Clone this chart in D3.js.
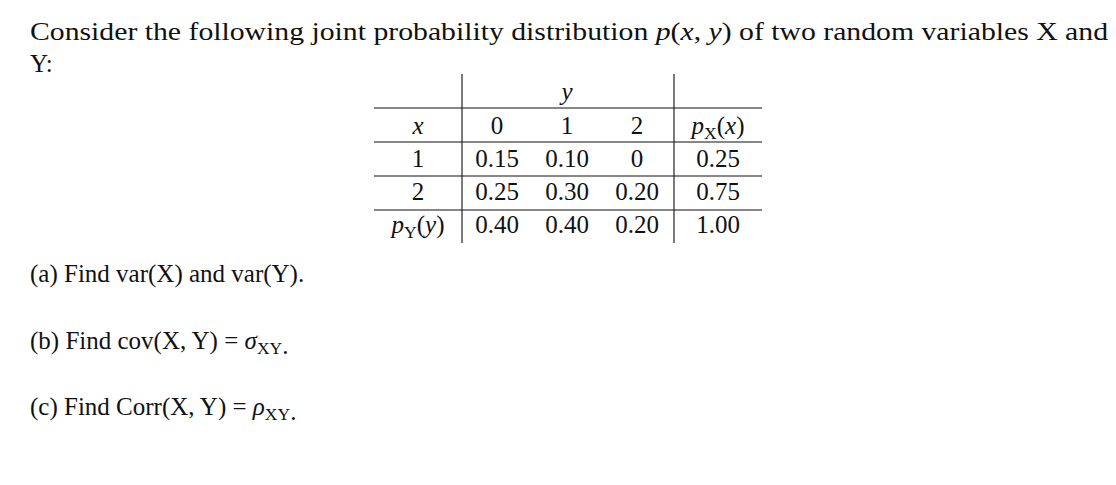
<!DOCTYPE html><html><head><meta charset="utf-8">
<script src="https://cdn.jsdelivr.net/npm/d3@7"></script>
<style>body{margin:0;background:#fff}text{font-family:"Liberation Serif","DejaVu Serif",serif;fill:#111}</style></head><body>
<script>
const yValues=["0","1","2"];
const xValues=["1","2"];
const joint=[["0.15","0.10","0"],["0.25","0.30","0.20"]];
const pX=["0.25","0.75"];
const pY=["0.40","0.40","0.20"];
const total="1.00";
const questions=[
 [["(a) Find var(X) and var(Y).",""]],
 [["(b) Find cov(X, Y) = ",""],["σ","i"],["XY","sub"],[".",""]],
 [["(c) Find Corr(X, Y) = ",""],["ρ","i"],["XY","sub"],[".",""]]
];
const W=1116,H=485,fs=25;
const svg=d3.select("body").append("svg").attr("width",W).attr("height",H);
function rich(g,x,y,parts,anchor,size){
 const t=g.append("text").attr("x",x).attr("y",y).attr("font-size",size||fs).attr("text-anchor",anchor||"start");
 parts.forEach(([s,k])=>{const sp=t.append("tspan").text(s);
  if(k==="i")sp.attr("font-style","italic");
  if(k==="sub")sp.attr("font-size",(size||fs)*0.7).attr("dy",5);
  if(k==="after")sp.attr("dy",-5);});
 return t;}
rich(svg,30,40,[["Consider the following joint probability distribution ",""],["p","i"],["(",""],["x","i"],[", ",""],["y","i"],[")",""],[" of two random variables X and",""]]).attr("textLength",1078).attr("lengthAdjust","spacingAndGlyphs");
rich(svg,30,72,[["Y:",""]]);
// table
const cols=d3.scaleOrdinal().domain(["x","0","1","2","p"]).range([418,497,567,637,718]);
const rows=d3.scaleOrdinal().domain(["h","y","r1","r2","py"]).range([100,134,167,200,233]);
const hl=[108,142,176,210];
svg.selectAll("line.h").data(hl).join("line").attr("x1",374).attr("x2",762).attr("y1",d=>d).attr("y2",d=>d).attr("stroke","#111").attr("stroke-width",1.2);
svg.selectAll("line.v").data([462,674]).join("line").attr("x1",d=>d).attr("x2",d=>d).attr("y1",74).attr("y2",243).attr("stroke","#222").attr("stroke-width",1.2);
rich(svg,cols("1"),rows("h"),[["y","i"]],"middle");
rich(svg,cols("x"),rows("y"),[["x","i"]],"middle");
yValues.forEach(v=>rich(svg,cols(v),rows("y"),[[v,""]],"middle"));
rich(svg,cols("p"),rows("y"),[["p","i"],["X","sub"],["(","after"],["x","i"],[")",""]],"middle");
xValues.forEach((xv,i)=>{const r=i?"r2":"r1";
 rich(svg,cols("x"),rows(r),[[xv,""]],"middle");
 joint[i].forEach((v,j)=>rich(svg,cols(yValues[j]),rows(r),[[v,""]],"middle"));
 rich(svg,cols("p"),rows(r),[[pX[i],""]],"middle");});
rich(svg,cols("x"),rows("py"),[["p","i"],["Y","sub"],["(","after"],["y","i"],[")",""]],"middle");
pY.forEach((v,j)=>rich(svg,cols(yValues[j]),rows("py"),[[v,""]],"middle"));
rich(svg,cols("p"),rows("py"),[[total,""]],"middle");
questions.forEach((q,i)=>rich(svg,30,282+i*66.5,q));
</script></body></html>
